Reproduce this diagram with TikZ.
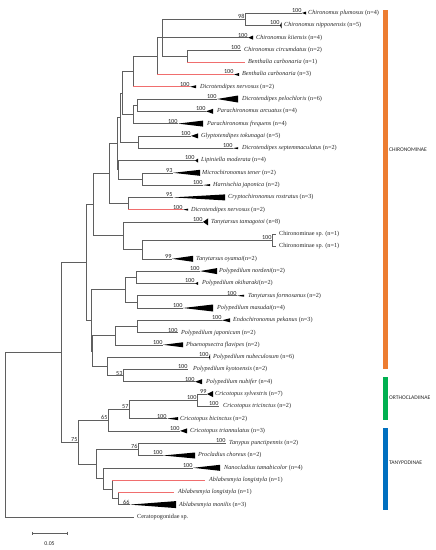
\documentclass[tikz,border=0pt]{standalone}
\usepackage{fontspec}
\setmainfont{Liberation Serif}
\newfontfamily\calibri{Carlito}
\usepackage{tikz}

\definecolor{linegray}{RGB}{95,95,95}
\definecolor{linered}{RGB}{240,110,110}
\definecolor{chiroOrange}{RGB}{237,125,49}
\definecolor{orthoGreen}{RGB}{0,176,80}
\definecolor{tanyBlue}{RGB}{0,112,192}

\begin{document}
\begin{tikzpicture}[x=1pt, y=-1pt,
                branch/.style={draw=linegray, line width=0.6pt},
                redbranch/.style={draw=linered, line width=0.6pt},
                wedge/.style={fill=black},
                taxon/.style={anchor=west, inner sep=0pt, text=black!85, font=\fontsize{6.2}{7}\selectfont},
                support/.style={anchor=south east, inner sep=0.3pt, text=black!85, font=\calibri\fontsize{6.2}{7}\selectfont},
                subfam/.style={anchor=west, inner sep=0pt, text=black!85, font=\calibri\fontsize{5.6}{6}\selectfont},
            ]
            \useasboundingbox (0,0) rectangle (436,550);

            % Internal nodes
            \coordinate (root)        at (5,434.6);
            \coordinate (ingroup)     at (61,352.25);
            \coordinate (chiro)       at (86,262.45);
            \coordinate (chiro_up)    at (93,204.65);
            \coordinate (chiro_low)   at (91,320.25);
            \coordinate (chiro_c)     at (109,173.55);
            \coordinate (chiro_d)     at (117,143.6);
            \coordinate (chiro_e)     at (120,117.5);
            \coordinate (chiro_g)     at (122,92.9);
            \coordinate (chiro_k)     at (133,71.4);
            \coordinate (chiro_157)   at (157,56.05);
            \coordinate (chironomus)  at (162,37.6);
            \coordinate (chir_98)     at (245,19.15);
            \coordinate (chir_circ)   at (187,56.05);
            \coordinate (dicro_m)     at (133,114.4);
            \coordinate (dicro_n)     at (137,105.15);
            \coordinate (glypto_h)    at (138,142.05);
            \coordinate (lipi_f)      at (118,169.7);
            \coordinate (micro_mh)    at (142,178.95);
            \coordinate (crypto_cr)   at (128,203.5);
            \coordinate (tany_a)      at (123,235.75);
            \coordinate (tany_b)      at (142,249.6);
            \coordinate (csp_node)    at (272,240.35);
            \coordinate (poly_s)      at (125,289.55);
            \coordinate (poly_no)     at (136,277.25);
            \coordinate (poly_fm)     at (137,301.85);
            \coordinate (poly_x)      at (92,350.95);
            \coordinate (poly_u)      at (115,335.6);
            \coordinate (endo_t)      at (137,326.45);
            \coordinate (poly_v)      at (107,366.3);
            \coordinate (poly_53)     at (123,375.55);
            \coordinate (sub_75)      at (78,442.05);
            \coordinate (ortho_65)    at (108,420.15);
            \coordinate (ortho_57)    at (129,409.4);
            \coordinate (crico)       at (197,400.15);
            \coordinate (tanyp)       at (96,463.95);
            \coordinate (tanyp_76)    at (138,449.35);
            \coordinate (tanyp_y)     at (103,478.55);
            \coordinate (tanyp_z)     at (112,489.3);
            \coordinate (tanyp_66)    at (118,498.5);

            % Leaves (end of branch)
            \coordinate (plumosus)    at (302,13.0);
            \coordinate (nipponensis) at (280,25.3);
            \coordinate (kiiensis)    at (248,37.6);
            \coordinate (circumdatus) at (241,49.9);
            \coordinate (benth_a)     at (245,62.2);
            \coordinate (benth_b)     at (234,74.5);
            \coordinate (nervosus_a)  at (190,86.7);
            \coordinate (pelochloris) at (217,99.0);
            \coordinate (arcuatus)    at (206,111.3);
            \coordinate (frequens)    at (178,123.6);
            \coordinate (glypto)      at (191,135.9);
            \coordinate (septem)      at (233,148.2);
            \coordinate (lipiniella)  at (195,160.5);
            \coordinate (micro)       at (173,172.8);
            \coordinate (harnischia)  at (203,185.1);
            \coordinate (crypto)      at (173,197.4);
            \coordinate (nervosus_b)  at (183,209.6);
            \coordinate (tamagotoi)   at (203,221.9);
            \coordinate (csp_a)       at (276,234.2);
            \coordinate (csp_b)       at (276,246.5);
            \coordinate (oyamai)      at (172,258.8);
            \coordinate (nordeni)     at (200,271.1);
            \coordinate (okiharaki)   at (195,283.4);
            \coordinate (formosanus)  at (237,295.7);
            \coordinate (masudai)     at (183,308.0);
            \coordinate (endo)        at (222,320.3);
            \coordinate (japonicum)   at (178,332.6);
            \coordinate (phaen)       at (163,344.8);
            \coordinate (nubeculosum) at (209,357.1);
            \coordinate (kyotoensis)  at (188,369.4);
            \coordinate (nubifer)     at (195,381.7);
            \coordinate (sylvestris)  at (207,394.0);
            \coordinate (tricinctus)  at (219,406.3);
            \coordinate (bicinctus)   at (167,418.6);
            \coordinate (triannul)    at (180,430.9);
            \coordinate (tanypus)     at (226,443.2);
            \coordinate (procladius)  at (163,455.5);
            \coordinate (nanoclad)    at (193,467.8);
            \coordinate (abla_a)      at (205,480.1);
            \coordinate (abla_b)      at (174,492.4);
            \coordinate (monilis)     at (130,504.6);
            \coordinate (cerato)      at (134,516.9);

            %Lines
            \draw[branch] (root) |- (ingroup) (root) |- (cerato);
            \draw[branch] (ingroup) |- (chiro) (ingroup) |- (sub_75);
            \draw[branch] (chiro) |- (chiro_up) (chiro) |- (chiro_low);
            \draw[branch] (chiro_up) |- (chiro_c) (chiro_up) |- (tany_a);
            \draw[branch] (chiro_c) |- (chiro_d) (chiro_c) |- (crypto_cr);
            \draw[branch] (chiro_d) |- (chiro_e) (chiro_d) |- (lipi_f);
            \draw[branch] (chiro_e) |- (chiro_g) (chiro_e) |- (glypto_h);
            \draw[branch] (chiro_g) |- (chiro_k) (chiro_g) |- (dicro_m);
            \draw[branch] (chiro_k) |- (chiro_157) (chiro_k) -- (chiro_k |- nervosus_a);
            \draw[redbranch] (chiro_k |- nervosus_a) -- (nervosus_a);
            \draw[branch] (chiro_157) |- (chironomus) (chiro_157) -- (chiro_157 |- benth_b);
            \draw[redbranch] (chiro_157 |- benth_b) -- (benth_b);
            \draw[branch] (chironomus) |- (chir_98) (chironomus) -- (kiiensis) (chironomus) |- (chir_circ);
            \draw[branch] (chir_98) |- (plumosus) (chir_98) |- (nipponensis);
            \draw[branch] (chir_circ) |- (circumdatus) (chir_circ) -- (chir_circ |- benth_a);
            \draw[redbranch] (chir_circ |- benth_a) -- (benth_a);
            \draw[branch] (dicro_m) |- (dicro_n) (dicro_m) |- (frequens);
            \draw[branch] (dicro_n) |- (pelochloris) (dicro_n) |- (arcuatus);
            \draw[branch] (glypto_h) |- (glypto) (glypto_h) |- (septem);
            \draw[branch] (lipi_f) |- (lipiniella) (lipi_f) |- (micro_mh);
            \draw[branch] (micro_mh) |- (micro) (micro_mh) |- (harnischia);
            \draw[branch] (crypto_cr) |- (crypto) (crypto_cr) -- (crypto_cr |- nervosus_b);
            \draw[redbranch] (crypto_cr |- nervosus_b) -- (nervosus_b);
            \draw[branch] (tany_a) |- (tamagotoi) (tany_a) |- (tany_b);
            \draw[branch] (tany_b) |- (csp_node) (tany_b) |- (oyamai);
            \draw[branch] (csp_node) |- (csp_a) (csp_node) |- (csp_b);
            \draw[branch] (chiro_low) |- (poly_s) (chiro_low) |- (poly_x);
            \draw[branch] (poly_s) |- (poly_no) (poly_s) |- (poly_fm);
            \draw[branch] (poly_no) |- (nordeni) (poly_no) |- (okiharaki);
            \draw[branch] (poly_fm) |- (formosanus) (poly_fm) |- (masudai);
            \draw[branch] (poly_x) |- (poly_u) (poly_x) |- (poly_v);
            \draw[branch] (poly_u) |- (endo_t) (poly_u) |- (phaen);
            \draw[branch] (endo_t) |- (endo) (endo_t) |- (japonicum);
            \draw[branch] (poly_v) |- (nubeculosum) (poly_v) |- (poly_53);
            \draw[branch] (poly_53) |- (kyotoensis) (poly_53) |- (nubifer);
            \draw[branch] (sub_75) |- (ortho_65) (sub_75) |- (tanyp);
            \draw[branch] (ortho_65) |- (ortho_57) (ortho_65) |- (triannul);
            \draw[branch] (ortho_57) |- (crico) (ortho_57) |- (bicinctus);
            \draw[branch] (crico) |- (sylvestris) (crico) |- (tricinctus);
            \draw[branch] (tanyp) |- (tanyp_76) (tanyp) |- (tanyp_y);
            \draw[branch] (tanyp_76) |- (tanypus) (tanyp_76) |- (procladius);
            \draw[branch] (tanyp_y) |- (nanoclad) (tanyp_y) |- (tanyp_z);
            \draw[branch] (tanyp_z) |- (tanyp_66) (tanyp_z) -- (tanyp_z |- abla_a);
            \draw[redbranch] (tanyp_z |- abla_a) -- (abla_a);
            \draw[branch] (tanyp_66) |- (monilis) (tanyp_66) -- (tanyp_66 |- abla_b);
            \draw[redbranch] (tanyp_66 |- abla_b) -- (abla_b);

            % Collapsed clades
            \fill[wedge] (plumosus) -- ++(4,-1.5) -- ++(0,3) -- cycle;
            \fill[wedge] (nipponensis) -- ++(1.5,-3) -- ++(0,6) -- cycle;
            \fill[wedge] (kiiensis) -- ++(5,-2) -- ++(0,4) -- cycle;
            \fill[wedge] (benth_b) -- ++(5,-1.5) -- ++(0,3) -- cycle;
            \fill[wedge] (nervosus_a) -- ++(6,-1.5) -- ++(0,3) -- cycle;
            \fill[wedge] (pelochloris) -- ++(21,-3.5) -- ++(0,7) -- cycle;
            \fill[wedge] (arcuatus) -- ++(7,-2.5) -- ++(0,5) -- cycle;
            \fill[wedge] (frequens) -- ++(25,-3) -- ++(0,6) -- cycle;
            \fill[wedge] (glypto) -- ++(7,-2.5) -- ++(0,5) -- cycle;
            \fill[wedge] (septem) -- ++(5,-1) -- ++(0,2) -- cycle;
            \fill[wedge] (lipiniella) -- ++(3,-2) -- ++(0,4) -- cycle;
            \fill[wedge] (micro) -- ++(27,-3) -- ++(0,6) -- cycle;
            \fill[wedge] (harnischia) -- ++(7,-1) -- ++(0,2) -- cycle;
            \fill[wedge] (crypto) -- ++(52,-3) -- ++(0,6) -- cycle;
            \fill[wedge] (nervosus_b) -- ++(5,-1) -- ++(0,2) -- cycle;
            \fill[wedge] (tamagotoi) -- ++(5,-3.5) -- ++(0,7) -- cycle;
            \fill[wedge] (oyamai) -- ++(21,-3) -- ++(0,6) -- cycle;
            \fill[wedge] (nordeni) -- ++(17,-3) -- ++(0,6) -- cycle;
            \fill[wedge] (okiharaki) -- ++(3,-1.5) -- ++(0,3) -- cycle;
            \fill[wedge] (formosanus) -- ++(7,-1) -- ++(0,2) -- cycle;
            \fill[wedge] (masudai) -- ++(30,-3.5) -- ++(0,7) -- cycle;
            \fill[wedge] (endo) -- ++(8,-2) -- ++(0,4) -- cycle;
            \fill[wedge] (phaen) -- ++(20,-2.5) -- ++(0,5) -- cycle;
            \fill[wedge] (nubeculosum) -- ++(1,-3) -- ++(0,6) -- cycle;
            \fill[wedge] (nubifer) -- ++(7,-2.5) -- ++(0,5) -- cycle;
            \fill[wedge] (sylvestris) -- ++(6,-3) -- ++(0,6) -- cycle;
            \fill[wedge] (bicinctus) -- ++(11,-1.5) -- ++(0,3) -- cycle;
            \fill[wedge] (triannul) -- ++(7,-2.5) -- ++(0,5) -- cycle;
            \fill[wedge] (procladius) -- ++(32,-3) -- ++(0,6) -- cycle;
            \fill[wedge] (nanoclad) -- ++(27,-3) -- ++(0,6) -- cycle;
            \fill[wedge] (monilis) -- ++(46,-3.5) -- ++(0,7) -- cycle;

            % Taxa
            \node[taxon] (t_plumosus)    at (308,13.0)  {\textit{Chironomus plumosus} (n=4)};
            \node[taxon] (t_nipponensis) at (284,25.3)  {\textit{Chironomus nipponensis} (n=5)};
            \node[taxon] (t_kiiensis)    at (256,37.6)  {\textit{Chironomus kiiensis} (n=4)};
            \node[taxon] (t_circumdatus) at (244,49.9)  {\textit{Chironomus circumdatus} (n=2)};
            \node[taxon] (t_benth_a)     at (248,62.2)  {\textit{Benthalia carbonaria} (n=1)};
            \node[taxon] (t_benth_b)     at (242,74.5)  {\textit{Benthalia carbonaria} (n=3)};
            \node[taxon] (t_nervosus_a)  at (200,86.7)  {\textit{Dicrotendipes nervosus} (n=2)};
            \node[taxon] (t_pelochloris) at (242,99.0)  {\textit{Dicrotendipes pelochloris} (n=6)};
            \node[taxon] (t_arcuatus)    at (217,111.3) {\textit{Parachironomus arcuatus} (n=4)};
            \node[taxon] (t_frequens)    at (207,123.6) {\textit{Parachironomus frequens} (n=4)};
            \node[taxon] (t_glypto)      at (201,135.9) {\textit{Glyptotendipes tokunagai} (n=5)};
            \node[taxon] (t_septem)      at (242,148.2) {\textit{Dicrotendipes septemmaculatus} (n=2)};
            \node[taxon] (t_lipiniella)  at (201,160.5) {\textit{Lipiniella moderata} (n=4)};
            \node[taxon] (t_micro)       at (202,172.8) {\textit{Microchironomus tener} (n=2)};
            \node[taxon] (t_harnischia)  at (213,185.1) {\textit{Harnischia japonica} (n=2)};
            \node[taxon] (t_crypto)      at (228,197.4) {\textit{Cryptochironomus rostratus} (n=3)};
            \node[taxon] (t_nervosus_b)  at (191,209.6) {\textit{Dicrotendipes nervosus} (n=2)};
            \node[taxon] (t_tamagotoi)   at (211,221.9) {\textit{Tanytarsus tamagotoi} (n=8)};
            \node[taxon] (t_csp_a)       at (279,234.2) {Chironominae sp. (n=1)};
            \node[taxon] (t_csp_b)       at (279,246.5) {Chironominae sp. (n=1)};
            \node[taxon] (t_oyamai)      at (196,258.8) {\textit{Tanytarsus oyamai}(n=2)};
            \node[taxon] (t_nordeni)     at (219,271.1) {\textit{Polypedilum nordeni}(n=2)};
            \node[taxon] (t_okiharaki)   at (202,283.4) {\textit{Polypedilum okiharaki}(n=2)};
            \node[taxon] (t_formosanus)  at (248,295.7) {\textit{Tanytarsus formosanus} (n=2)};
            \node[taxon] (t_masudai)     at (217,308.0) {\textit{Polypedilum masudai}(n=4)};
            \node[taxon] (t_endo)        at (233,320.3) {\textit{Endochironomus pekanus} (n=3)};
            \node[taxon] (t_japonicum)   at (181,332.6) {\textit{Polypedilum japonicum} (n=2)};
            \node[taxon] (t_phaen)       at (186,344.8) {\textit{Phaenopsectra flavipes} (n=2)};
            \node[taxon] (t_nubeculosum) at (213,357.1) {\textit{Polypedilum nubeculosum} (n=6)};
            \node[taxon] (t_kyotoensis)  at (193,369.4) {\textit{Polypedilum kyotoensis} (n=2)};
            \node[taxon] (t_nubifer)     at (206,381.7) {\textit{Polypedilum nubifer} (n=4)};
            \node[taxon] (t_sylvestris)  at (215,394.0) {\textit{Cricotopus sylvestris} (n=7)};
            \node[taxon] (t_tricinctus)  at (223,406.3) {\textit{Cricotopus tricinctus} (n=2)};
            \node[taxon] (t_bicinctus)   at (180,418.6) {\textit{Cricotopus bicinctus} (n=2)};
            \node[taxon] (t_triannul)    at (190,430.9) {\textit{Cricotopus triannulatus} (n=3)};
            \node[taxon] (t_tanypus)     at (229,443.2) {\textit{Tanypus punctipennis} (n=2)};
            \node[taxon] (t_procladius)  at (198,455.5) {\textit{Procladius choreus} (n=2)};
            \node[taxon] (t_nanoclad)    at (224,467.8) {\textit{Nanocladius tamabicolor} (n=4)};
            \node[taxon] (t_abla_a)      at (209,480.1) {\textit{Ablabesmyia longistyla} (n=1)};
            \node[taxon] (t_abla_b)      at (178,492.4) {\textit{Ablabesmyia longistyla} (n=1)};
            \node[taxon] (t_monilis)     at (179,504.6) {\textit{Ablabesmyia monilis} (n=3)};
            \node[taxon] (t_cerato)      at (137,516.9) {Ceratopogonidae sp.};

            % Support values
            \node[support] at (plumosus)    {100};
            \node[support] at (nipponensis) {100};
            \node[support] at (kiiensis)    {100};
            \node[support] at (circumdatus) {100};
            \node[support] at (benth_b)     {100};
            \node[support] at (nervosus_a)  {100};
            \node[support] at (pelochloris) {100};
            \node[support] at (arcuatus)    {100};
            \node[support] at (frequens)    {100};
            \node[support] at (glypto)      {100};
            \node[support] at (septem)      {100};
            \node[support] at (lipiniella)  {100};
            \node[support] at (micro)       {93};
            \node[support] at (harnischia)  {100};
            \node[support] at (crypto)      {95};
            \node[support] at (nervosus_b)  {100};
            \node[support] at (tamagotoi)   {100};
            \node[support] at (oyamai)      {99};
            \node[support] at (nordeni)     {100};
            \node[support] at (okiharaki)   {100};
            \node[support] at (formosanus)  {100};
            \node[support] at (masudai)     {100};
            \node[support] at (endo)        {100};
            \node[support] at (japonicum)   {100};
            \node[support] at (phaen)       {100};
            \node[support] at (nubeculosum) {100};
            \node[support] at (kyotoensis)  {100};
            \node[support] at (nubifer)     {100};
            \node[support] at (sylvestris)  {99};
            \node[support] at (tricinctus)  {100};
            \node[support] at (bicinctus)   {100};
            \node[support] at (triannul)    {100};
            \node[support] at (tanypus)     {100};
            \node[support] at (procladius)  {100};
            \node[support] at (nanoclad)    {100};
            \node[support] at (monilis)     {66};
            \node[support] at (chir_98)     {98};
            \node[support] at (csp_node)    {100};
            \node[support] at (poly_53)     {53};
            \node[support] at (crico)       {100};
            \node[support] at (ortho_57)    {57};
            \node[support] at (ortho_65)    {65};
            \node[support] at (sub_75)      {75};
            \node[support] at (tanyp_76)    {76};

            % Subfamilies
            \fill[chiroOrange] (383,10) rectangle (387.5,369);
            \fill[orthoGreen]  (383,377) rectangle (387.5,420);
            \fill[tanyBlue]    (383,428) rectangle (387.5,510);
            \node[subfam] (chironominae)   at (389,150) {CHIRONOMINAE};
            \node[subfam] (orthocladiinae) at (389,398) {ORTHOCLADIINAE};
            \node[subfam] (tanypodinae)    at (389,463) {TANYPODINAE};

            % Scale bar
            \coordinate (bar_l) at (32,533);
            \coordinate (bar_r) at (67,533);
            \draw[branch] (bar_l) -- (bar_r);
            \draw[branch] (bar_l) ++(0,-1.5) -- ++(0,3);
            \draw[branch] (bar_r) ++(0,-1.5) -- ++(0,3);
            \node[anchor=north, inner sep=0pt, text=black!85, font=\calibri\fontsize{5.8}{6}\selectfont] (bar_label) at (49.5,542) {0.05};
        \end{tikzpicture}
\end{document}
